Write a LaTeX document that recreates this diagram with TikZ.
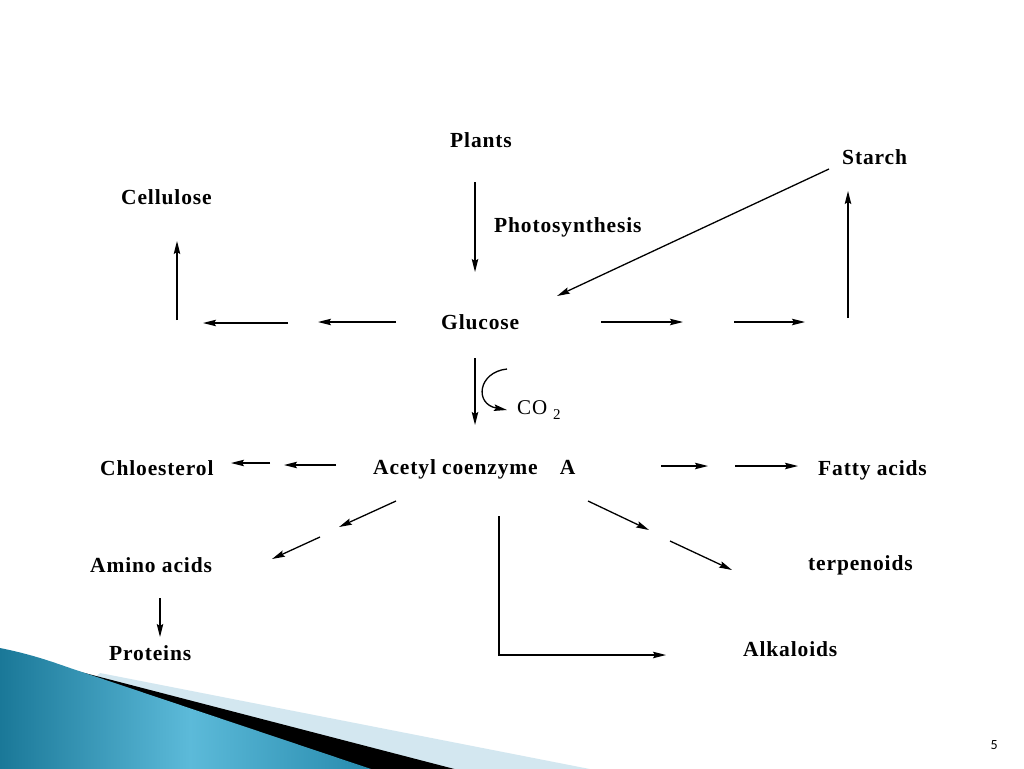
\documentclass[tikz,border=0pt]{standalone}
\usepackage{fontspec}
\setmainfont{Liberation Serif}[LetterSpace=4]
\newfontfamily\pagefont{Carlito}
\usetikzlibrary{arrows.meta}
\definecolor{tealdark}{HTML}{1A7898}
\definecolor{teallight}{HTML}{5CBAD9}
\definecolor{tealmid}{HTML}{2488AB}
\definecolor{palestrip}{HTML}{D3E7F0}
\begin{document}
\begin{tikzpicture}[x=1pt,y=-1pt,
  lbl/.style={anchor=base west,inner sep=0pt,font=\fontsize{21.5}{25}\selectfont\bfseries},
  arr/.style={line width=1.3pt,-{Stealth[length=13pt,width=6.5pt,inset=2pt]}},
  seg/.style={line width=1.3pt}]
\useasboundingbox (0,0) rectangle (1024,768);
\fill[white] (0,0) rectangle (1024,768);
% decoration bottom left
\fill[palestrip] (100,673) -- (605,772) -- (0,772) -- cycle;
\fill[black] (50,664) -- (466,772) -- (0,772) -- cycle;
\shade[left color=tealdark,right color=tealmid,middle color=teallight]
  (0,648) .. controls (30,654) and (50,661) .. (70,668) -- (380,772) -- (0,772) -- cycle;
% labels
\node[lbl] (plants) at (450,147) {Plants};
\node[lbl] (photo) at (494,232) {Photosynthesis};
\node[lbl] (starch) at (842,164) {Starch};
\node[lbl] (cell) at (121,204) {Cellulose};
\node[lbl] (glucose) at (441,329) {Glucose};
\node[lbl] (acetyl) at (373,474) {Acetyl coenzyme\hspace{22pt}A};
\node[lbl] (chol) at (100,475) {Chloesterol};
\node[lbl] (fatty) at (818,475) {Fatty acids};
\node[lbl] (amino) at (90,572) {Amino acids};
\node[lbl] (terp) at (808,570) {terpenoids};
\node[lbl] (prot) at (109,660) {Proteins};
\node[lbl] (alk) at (743,656) {Alkaloids};
\node[anchor=base west,inner sep=0pt,font=\fontsize{21}{24}\selectfont] (co) at (517,414) {CO};
\node[anchor=base west,inner sep=0pt,font=\fontsize{15}{17}\selectfont] (two) at (553,419) {2};
\node[anchor=base east,inner sep=0pt,font=\pagefont\fontsize{14}{16}\selectfont] (page) at (998,749) {5};
% coordinates
\coordinate (a1s) at (475,182); \coordinate (a1e) at (475,272);
\coordinate (a2s) at (829,169); \coordinate (a2e) at (557,296);
\coordinate (a3s) at (601,322); \coordinate (a3e) at (683,322);
\coordinate (a4s) at (734,322); \coordinate (a4e) at (805,322);
\coordinate (a5s) at (848,318); \coordinate (a5e) at (848,191);
\coordinate (a6s) at (396,322); \coordinate (a6e) at (318,322);
\coordinate (a7s) at (288,323); \coordinate (a7e) at (203,323);
\coordinate (a8s) at (177,320); \coordinate (a8e) at (177,241);
\coordinate (a9s) at (475,358); \coordinate (a9e) at (475,425);
\coordinate (cvs) at (507,369); \coordinate (cve) at (507,410);
\coordinate (b1s) at (336,465); \coordinate (b1e) at (284,465);
\coordinate (b2s) at (270,463); \coordinate (b2e) at (231,463);
\coordinate (b3s) at (661,466); \coordinate (b3e) at (708,466);
\coordinate (b4s) at (735,466); \coordinate (b4e) at (798,466);
\coordinate (b5s) at (396,501); \coordinate (b5e) at (339,527);
\coordinate (b6s) at (320,537); \coordinate (b6e) at (272,559);
\coordinate (b7s) at (160,598); \coordinate (b7e) at (160,637);
\coordinate (b8s) at (588,501); \coordinate (b8e) at (649,530);
\coordinate (b9s) at (670,541); \coordinate (b9e) at (732,570);
\coordinate (Ls) at (499,516); \coordinate (Lc) at (499,655); \coordinate (Le) at (666,655);
% arrows
\draw[arr] (a1s) -- (a1e);
\draw[arr] (a2s) -- (a2e);
\draw[arr] (a3s) -- (a3e);
\draw[arr] (a4s) -- (a4e);
\draw[arr] (a5s) -- (a5e);
\draw[arr] (a6s) -- (a6e);
\draw[arr] (a7s) -- (a7e);
\draw[arr] (a8s) -- (a8e);
\draw[arr] (a9s) -- (a9e);
\draw[arr] (cvs) .. controls (478,372) and (474,404) .. (cve);
\draw[arr] (b1s) -- (b1e);
\draw[arr] (b2s) -- (b2e);
\draw[arr] (b3s) -- (b3e);
\draw[arr] (b4s) -- (b4e);
\draw[arr] (b5s) -- (b5e);
\draw[arr] (b6s) -- (b6e);
\draw[arr] (b7s) -- (b7e);
\draw[arr] (b8s) -- (b8e);
\draw[arr] (b9s) -- (b9e);
\draw[arr] (Ls) -- (Lc) -- (Le);
\end{tikzpicture}
\end{document}
